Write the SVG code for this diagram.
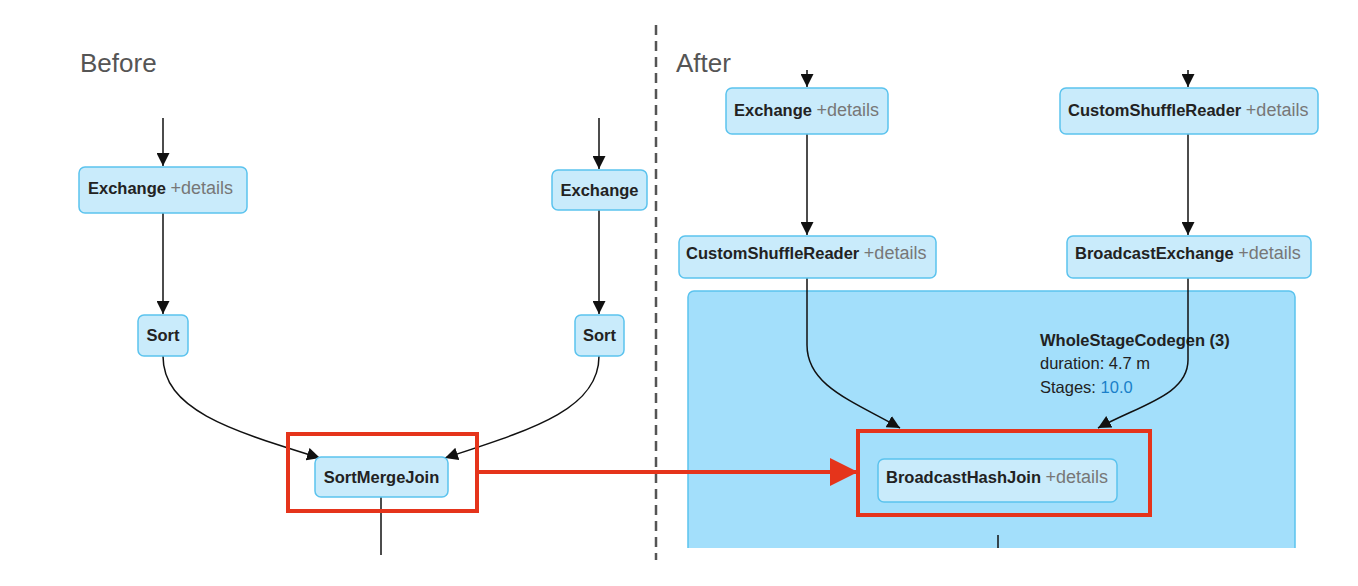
<svg xmlns="http://www.w3.org/2000/svg" width="1358" height="586" viewBox="0 0 1358 586">
<style>
.n{fill:#c9ebfb;stroke:#5bc3ee;stroke-width:1.5}
.t{font-family:"Liberation Sans",Arial,sans-serif;font-size:16.5px;font-weight:bold;fill:#222}
.d{font-weight:normal;fill:#777;font-size:18px}
.e{fill:none;stroke:#111;stroke-width:1.5}
.h{font-family:"Liberation Sans",Arial,sans-serif;font-size:26px;fill:#555}
.red{fill:none;stroke:#e5341b;stroke-width:4}
</style>
<defs>
<marker id="a" viewBox="0 0 10 10" refX="10" refY="5" markerWidth="13" markerHeight="13" markerUnits="userSpaceOnUse" orient="auto"><path d="M0,0L10,5L0,10z" fill="#111"/></marker>
<marker id="r" viewBox="0 0 10 10" refX="10" refY="5" markerWidth="28" markerHeight="28" markerUnits="userSpaceOnUse" orient="auto"><path d="M0,0L10,5L0,10z" fill="#e5341b"/></marker>
</defs>
<rect width="1358" height="586" fill="#fff"/>
<line x1="656" y1="25" x2="656" y2="560" stroke="#555" stroke-width="2.5" stroke-dasharray="10,6"/>
<text class="h" x="80" y="72">Before</text>
<text class="h" x="676" y="72">After</text>
<g id="cluster">
<path d="M688,548V297a6,6 0 0 1 6,-6H1289a6,6 0 0 1 6,6V548" fill="#a3dffb" stroke="#5bc3ee" stroke-width="1.5"/>
<text class="t" x="1040" y="346">WholeStageCodegen (3)</text>
<text class="t" x="1040" y="369" style="font-weight:normal">duration: 4.7 m</text>
<text class="t" x="1040" y="393" style="font-weight:normal">Stages: <tspan fill="#1a7fc9">10.0</tspan></text>
</g>
<g id="connectors">
<path class="e" d="M163,118V166" marker-end="url(#a)"/>
<path class="e" d="M163,213V314" marker-end="url(#a)"/>
<path class="e" d="M599,118V169" marker-end="url(#a)"/>
<path class="e" d="M599,210V314" marker-end="url(#a)"/>
<path class="e" d="M163,356C163,410 230,430 320,458" marker-end="url(#a)"/>
<path class="e" d="M599,356C599,410 530,430 445,458" marker-end="url(#a)"/>
<path class="e" d="M381,497V555"/>
<path class="e" d="M807,70V87" marker-end="url(#a)"/>
<path class="e" d="M1188,70V87" marker-end="url(#a)"/>
<path class="e" d="M807,134V235" marker-end="url(#a)"/>
<path class="e" d="M1188,134V235" marker-end="url(#a)"/>
<path class="e" d="M807,278V345C807,385 850,400 900,428" marker-end="url(#a)"/>
<path class="e" d="M1188,278V360C1188,395 1140,405 1098,428" marker-end="url(#a)"/>
<path class="e" d="M998,535V548"/>
<path d="M477,472H858" stroke="#e5341b" stroke-width="4" marker-end="url(#r)"/>
</g>
<g id="n1"><rect class="n" x="79" y="167" width="168" height="46" rx="6"/><text class="t" x="88" y="194">Exchange <tspan class="d">+details</tspan></text></g>
<g id="n2"><rect class="n" x="552" y="170" width="95" height="40" rx="6"/><text class="t" x="599.5" y="196" text-anchor="middle">Exchange</text></g>
<g id="n3"><rect class="n" x="138" y="315" width="50" height="41" rx="6"/><text class="t" x="163" y="341" text-anchor="middle">Sort</text></g>
<g id="n4"><rect class="n" x="575" y="315" width="49" height="41" rx="6"/><text class="t" x="599.5" y="341" text-anchor="middle">Sort</text></g>
<g id="n5"><rect class="n" x="315" y="457" width="133" height="40" rx="6"/><text class="t" x="381.5" y="483" text-anchor="middle">SortMergeJoin</text><rect class="red" x="288" y="434" width="189" height="77"/></g>
<g id="n6"><rect class="n" x="726" y="88" width="162" height="46" rx="6"/><text class="t" x="734" y="116">Exchange <tspan class="d">+details</tspan></text></g>
<g id="n7"><rect class="n" x="1060" y="88" width="258" height="46" rx="6"/><text class="t" x="1068" y="116">CustomShuffleReader <tspan class="d">+details</tspan></text></g>
<g id="n8"><rect class="n" x="679" y="236" width="257" height="42" rx="6"/><text class="t" x="686" y="259">CustomShuffleReader <tspan class="d">+details</tspan></text></g>
<g id="n9"><rect class="n" x="1067" y="236" width="244" height="42" rx="6"/><text class="t" x="1075" y="259">BroadcastExchange <tspan class="d">+details</tspan></text></g>
<g id="n10"><rect class="n" x="878" y="459" width="239" height="43" rx="6"/><text class="t" x="886" y="483">BroadcastHashJoin <tspan class="d">+details</tspan></text><rect class="red" x="858" y="431" width="292" height="84"/></g>
</svg>
